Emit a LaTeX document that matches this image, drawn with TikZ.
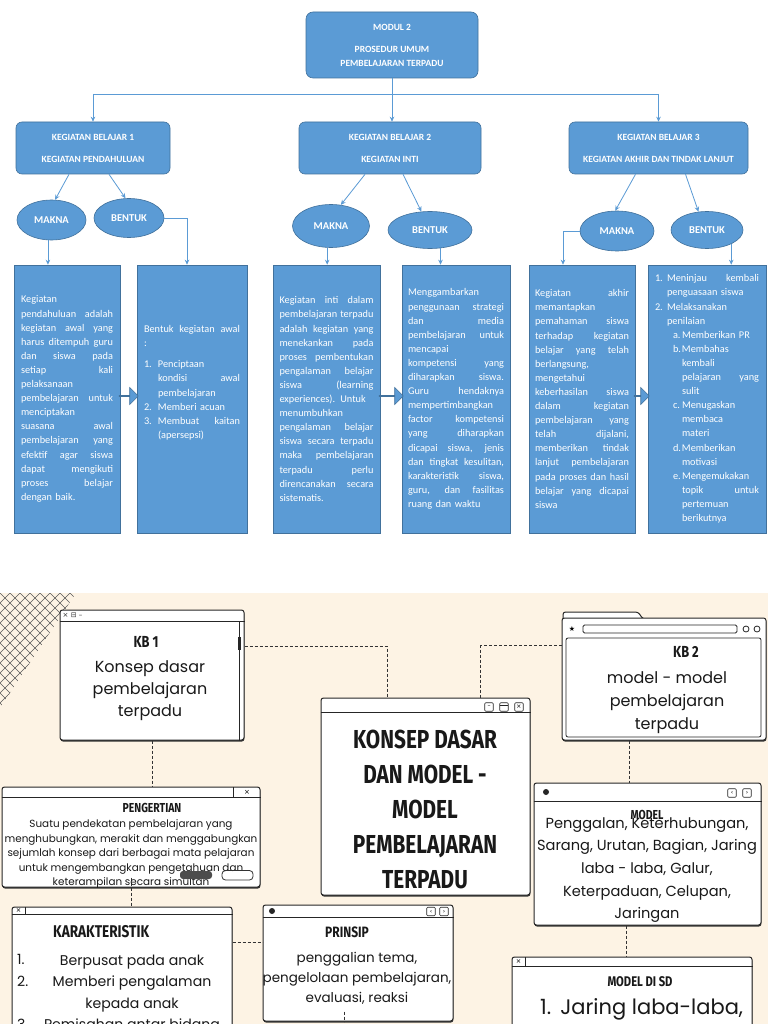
\documentclass[tikz,border=0pt]{standalone}
\usepackage{fontspec}
\setmainfont{Carlito}
\newfontfamily\handfont{Poppins}
\newfontfamily\headfont[FakeStretch=0.8]{Fira Sans}
\newfontfamily\symfont{DejaVu Sans}
\usetikzlibrary{positioning,arrows.meta,shapes.geometric,shapes.arrows,shadows,calc}

\definecolor{kbblue}{HTML}{5B9BD5}
\definecolor{kbedge}{HTML}{41719C}
\definecolor{cream}{HTML}{FDF3E4}

\hbadness=10000
\hfuzz=6pt
% one justified line, one left line, a list label
\newcommand\jl[2][0pt]{\hspace*{#1}\hbox to \dimexpr\hsize-#1\relax{\spaceskip=0.23em plus 6em minus 0.08em\relax#2}\\}
\newcommand\lline[2][0pt]{\hspace*{#1}#2\\}
\newcommand\lab[2]{\makebox[#1][l]{#2}}

\begin{document}
\begin{tikzpicture}[x=1pt,y=-1pt,
    kbbox/.style={rectangle, rounded corners=6pt, fill=kbblue, draw=kbedge, line width=0.6pt,
      text=white, font=\bfseries\fontsize{9.5}{14}\selectfont, align=center, inner sep=0pt},
    ovalnode/.style={ellipse, fill=kbblue, draw=kbedge, line width=0.6pt, text=white,
      font=\bfseries\fontsize{10.5}{11}\selectfont, inner sep=0pt},
    bodybox/.style={rectangle, fill=kbblue, draw=kbedge, line width=0.6pt, text=white,
      minimum height=268pt, inner xsep=0pt, align=left, font=\fontsize{10.3}{14.1}\selectfont},
    conn/.style={draw=kbblue, line width=0.8pt},
    arr/.style={-{Stealth[length=5pt,width=4.5pt]}},
    blockarr/.style={single arrow, fill=kbblue, draw=kbedge, line width=0.6pt, minimum width=17pt,
      single arrow head extend=5pt, inner sep=0pt},
    win/.style={draw=black!85, fill=white, line width=1pt, rounded corners=2.5pt,
      general shadow={fill=black!80, shadow xshift=0.4pt, shadow yshift=-1.5pt}},
    tbar/.style={draw=black!85, line width=0.8pt},
    dotlink/.style={draw=black!80, line width=1pt, dash pattern=on 3pt off 2pt},
    btn/.style={draw=black!85, line width=0.6pt, rounded corners=1pt, minimum size=8.5pt, inner sep=0pt,
      font=\symfont\fontsize{6}{6}\selectfont},
    handtxt/.style={align=center, inner sep=0pt, text=black!90},
    wintitle/.style={inner sep=0pt, text=black!90},
  ]

  \useasboundingbox (0,0) rectangle (768,1024);
  \fill[white] (0,0) rectangle (768,1024);
  \fill[cream] (0,593) rectangle (768,1024);

  % cross hatch, top left
  \begin{scope}
    \clip (0,593) -- (76,593) -- (0,708) -- cycle;
    \foreach \k in {-130,-120,...,80} {
      \draw[black!65, line width=0.6pt] (\k,593) -- ++(140,140);
      \draw[black!65, line width=0.6pt] (\k+130,593) -- ++(-140,140);
    }
  \end{scope}

  %%% upper chart
  \node[kbbox, minimum width=172pt, minimum height=66pt, rounded corners=7pt] (mod) at (392,45)
    {MODUL 2\\[8pt]PROSEDUR UMUM\\PEMBELAJARAN TERPADU};

  \node[kbbox, minimum width=154pt, minimum height=52pt] (k1) at (93,148)
    {KEGIATAN BELAJAR 1\\[8pt]KEGIATAN PENDAHULUAN};
  \node[kbbox, minimum width=182pt, minimum height=52pt] (k2) at (390,148)
    {KEGIATAN BELAJAR 2\\[8pt]KEGIATAN INTI};
  \node[kbbox, minimum width=179pt, minimum height=52pt] (k3) at (658.5,148)
    {KEGIATAN BELAJAR 3\\[8pt]KEGIATAN AKHIR DAN TINDAK LANJUT};

  \node[ovalnode, minimum width=69pt, minimum height=40pt] (m1) at (51.5,220) {MAKNA};
  \node[ovalnode, minimum width=70pt, minimum height=39pt] (n1) at (129,218) {BENTUK};
  \node[ovalnode, minimum width=77pt, minimum height=43pt] (m2) at (331,226) {MAKNA};
  \node[ovalnode, minimum width=84pt, minimum height=37pt] (n2) at (430,230) {BENTUK};
  \node[ovalnode, minimum width=74pt, minimum height=40pt] (m3) at (617,231) {MAKNA};
  \node[ovalnode, minimum width=72pt, minimum height=37pt] (n3) at (707,230) {BENTUK};

  \node[bodybox, text width=92pt, minimum width=106pt] (b1) at (67,399) {%
    \lline{Kegiatan}
    \jl{pendahuluan adalah}
    \jl{kegiatan awal yang}
    \jl{harus ditempuh guru}
    \jl{dan siswa pada}
    \jl{setiap kali}
    \lline{pelaksanaan}
    \jl{pembelajaran untuk}
    \lline{menciptakan}
    \jl{suasana awal}
    \jl{pembelajaran yang}
    \jl{efektif agar siswa}
    \jl{dapat mengikuti}
    \jl{proses belajar}
    dengan baik.};
  \node[bodybox, text width=96pt, minimum width=110pt] (b2) at (192,399) {%
    \jl{Bentuk kegiatan awal}
    :\\[7pt]
    \lline{\lab{14pt}{1.}Penciptaan}
    \jl[14pt]{kondisi awal}
    \lline[14pt]{pembelajaran}
    \lline{\lab{14pt}{2.}Memberi acuan}
    \jl{\lab{14pt}{3.}Membuat kaitan}
    \hspace*{14pt}(apersepsi)\\[20pt]\mbox{}};
  \node[bodybox, text width=94pt, minimum width=107pt] (b3) at (326.5,399) {%
    \jl{Kegiatan inti dalam}
    \jl{pembelajaran terpadu}
    \jl{adalah kegiatan yang}
    \jl{menekankan pada}
    \jl{proses pembentukan}
    \jl{pengalaman belajar}
    \jl{siswa (learning}
    \jl{experiences). Untuk}
    \lline{menumbuhkan}
    \jl{pengalaman belajar}
    \jl{siswa secara terpadu}
    \jl{maka pembelajaran}
    \jl{terpadu perlu}
    \jl{direncanakan secara}
    sistematis.};
  \node[bodybox, text width=96pt, minimum width=108pt] (b4) at (456,399) {%
    \lline{Menggambarkan}
    \jl{penggunaan strategi}
    \jl{dan media}
    \jl{pembelajaran untuk}
    \lline{mencapai}
    \jl{kompetensi yang}
    \jl{diharapkan siswa.}
    \jl{Guru hendaknya}
    \lline{mempertimbangkan}
    \jl{factor kompetensi}
    \jl{yang diharapkan}
    \jl{dicapai siswa, jenis}
    \jl{dan tingkat kesulitan,}
    \jl{karakteristik siswa,}
    \jl{guru, dan fasilitas}
    ruang dan waktu};
  \node[bodybox, text width=94pt, minimum width=106pt] (b5) at (582,399) {%
    \jl{Kegiatan akhir}
    \lline{memantapkan}
    \jl{pemahaman siswa}
    \jl{terhadap kegiatan}
    \jl{belajar yang telah}
    \lline{berlangsung,}
    \lline{mengetahui}
    \jl{keberhasilan siswa}
    \jl{dalam kegiatan}
    \jl{pembelajaran yang}
    \jl{telah dijalani,}
    \jl{memberikan tindak}
    \jl{lanjut pembelajaran}
    \jl{pada proses dan hasil}
    \jl{belajar yang dicapai}
    siswa};
  \node[bodybox, text width=104pt, minimum width=118pt] (b6) at (707,399) {%
    \jl{\lab{12pt}{1.}Meninjau kembali}
    \lline[12pt]{penguasaan siswa}
    \lline{\lab{12pt}{2.}Melaksanakan}
    \lline[12pt]{penilaian}
    \lline[18pt]{\lab{9pt}{a.}Memberikan PR}
    \lline[18pt]{\lab{9pt}{b.}Membahas}
    \lline[27pt]{kembali}
    \jl[27pt]{pelajaran yang}
    \lline[27pt]{sulit}
    \lline[18pt]{\lab{9pt}{c.}Menugaskan}
    \lline[27pt]{membaca}
    \lline[27pt]{materi}
    \lline[18pt]{\lab{9pt}{d.}Memberikan}
    \lline[27pt]{motivasi}
    \lline[18pt]{\lab{9pt}{e.}Mengemukakan}
    \jl[27pt]{topik untuk}
    \lline[27pt]{pertemuan}
    \hspace*{27pt}berikutnya};

  \node[blockarr, minimum height=19pt] (a1) at ($(b1.east)!0.5!(b2.west)+(0,-3)$) {};
  \node[blockarr, minimum height=24pt] (a2) at ($(b3.east)!0.5!(b4.west)+(0,-3)$) {};
  \node[blockarr, minimum height=15pt] (a3) at ($(b5.east)!0.5!(b6.west)+(0,-3)$) {};

  \coordinate (jn) at ($(mod.south)!0.36!(k2.north)$);
  \draw[conn, arr] (mod.south) -- (mod.south |- k2.north);
  \draw[conn] (jn -| k1.north) -- (jn -| k3.north);
  \draw[conn, arr] (jn -| k1.north) -- (k1.north);
  \draw[conn, arr] (jn -| k3.north) -- (k3.north);

  \draw[conn, arr] ([xshift=-24pt]k1.south) -- (m1.80);
  \draw[conn, arr] ([xshift=16pt]k1.south) -- (n1.100);
  \draw[conn, arr] ([xshift=-25pt]k2.south) -- (m2.65);
  \draw[conn, arr] ([xshift=13pt]k2.south) -- (n2.115);
  \draw[conn, arr] ([xshift=-23pt]k3.south) -- (m3.95);
  \draw[conn, arr] ([xshift=27pt]k3.south) -- (n3.115);

  \draw[conn, arr] (m1.-100) -- (m1.-100 |- b1.north);
  \draw[conn, arr] (n1.east) -| ([xshift=-5pt]b2.north);
  \draw[conn, arr] (m2.-100) -- (m2.-100 |- b3.north);
  \draw[conn, arr] (n2.-60) -- (n2.-60 |- b4.north);
  \draw[conn, arr] (m3.west) -| ([xshift=-19pt]b5.north);
  \draw[conn, arr] (n3.-30) -- (n3.-30 |- b6.north);

  %%% lower board
  % KB 1
  \node[win, minimum width=184pt, minimum height=130pt] (kb1) at (152,675) {};
  \draw[tbar] ([yshift=-12pt]kb1.north west) -- ([yshift=-12pt]kb1.north east);
  \draw[tbar] ([xshift=-5pt,yshift=-12pt]kb1.north east) -- ([xshift=-5pt]kb1.south east);
  \fill[black!85] ([xshift=-6.5pt,yshift=-27pt]kb1.north east) rectangle ([xshift=-3.5pt,yshift=-40pt]kb1.north east);
  \node[anchor=west, inner sep=0pt, font=\symfont\fontsize{7}{7}\selectfont, text=black!80] (kb1i)
    at ([xshift=3pt,yshift=-6pt]kb1.north west) {× ⊟ –};
  \node[wintitle, font=\headfont\bfseries\fontsize{16}{16}\selectfont] (kb1h) at (146,642) {KB 1};
  \node[handtxt, font=\handfont\fontsize{16}{22}\selectfont] (kb1t) at (150,691)
    {Konsep dasar\\pembelajaran\\terpadu};

  % KB 2
  \draw[win] (563,626) -- (563,612) -- (638,612) -- (643,619) -- (700,619);
  \node[win, minimum width=204pt, minimum height=122pt] (kb2) at (664,679) {};
  \node[inner sep=0pt, font=\symfont\fontsize{7}{7}\selectfont] (kb2s) at (572,629) {★};
  \draw[tbar, rounded corners=1.5pt] (583,625) rectangle (737,633);
  \draw[tbar] (746,629) circle[radius=3] (757,629) circle[radius=3];
  \draw[tbar, rounded corners=2pt] (566,638) rectangle (761,737);
  \node[wintitle, font=\headfont\bfseries\fontsize{16}{16}\selectfont] (kb2h) at (686,652) {KB 2};
  \node[handtxt, font=\handfont\fontsize{16}{23}\selectfont] (kb2t) at (667,703)
    {model - model\\pembelajaran\\terpadu};

  % centre window
  \node[win, minimum width=209pt, minimum height=197pt] (cw) at (425.5,796.5) {};
  \draw[tbar] ([yshift=-15pt]cw.north west) -- ([yshift=-15pt]cw.north east);
  \node[btn] (cwb1) at (489,707) {–};
  \node[btn, path picture={\draw[line width=0.6pt] ([yshift=-2.5pt]path picture bounding box.north west) -- ([yshift=-2.5pt]path picture bounding box.north east);}] (cwb2) at (504,707) {};
  \node[btn] (cwb3) at (519,707) {×};
  \node[handtxt, font=\headfont\bfseries\fontsize{26}{35}\selectfont] (cwt) at (425,809)
    {KONSEP DASAR\\DAN MODEL -\\MODEL\\PEMBELAJARAN\\TERPADU};

  % pengertian
  \node[win, minimum width=258pt, minimum height=100pt] (pg) at (131,837) {};
  \draw[tbar] ([yshift=-11pt]pg.north west) -- ([yshift=-11pt]pg.north east);
  \draw[tbar] (233,787) -- (233,798);
  \node[inner sep=0pt, font=\symfont\fontsize{7}{7}\selectfont] (pgx) at (247,792.5) {×};
  \node[wintitle, font=\headfont\bfseries\fontsize{13}{13}\selectfont] (pgh) at (152,808) {PENGERTIAN};

  % karakteristik
  \node[win, minimum width=220pt, minimum height=140pt] (kr) at (122,977) {};
  \draw[tbar] ([yshift=-8pt]kr.north west) -- ([yshift=-8pt]kr.north east);
  \draw[tbar] (25,907) -- (25,915);
  \node[inner sep=0pt, font=\symfont\fontsize{6.5}{6.5}\selectfont] (krx) at (18.5,911) {×};
  \node[wintitle, anchor=west, font=\headfont\bfseries\fontsize{17}{17}\selectfont] (krh) at (53,932) {KARAKTERISTIK};
  \node[handtxt, font=\handfont\fontsize{14.1}{21.5}\selectfont] (krl) at (132,994)
    {Berpusat pada anak\\Memberi pengalaman\\kepada anak\\Pemisahan antar bidang};
  \node[handtxt, anchor=west, align=left, font=\handfont\fontsize{14.1}{21.5}\selectfont] (krn) at (17,992)
    {1.\\2.\\[21.5pt]3.};

  % prinsip
  \node[win, minimum width=190pt, minimum height=116pt] (pr) at (358,963) {};
  \draw[tbar] ([yshift=-13pt]pr.north west) -- ([yshift=-13pt]pr.north east);
  \fill[black!85] (272,911) circle[radius=3];
  \node[btn] (prb1) at (431,911.5) {‹};
  \node[btn] (prb2) at (444,911.5) {›};
  \node[wintitle, font=\headfont\bfseries\fontsize{15}{15}\selectfont] (prh) at (347,932) {PRINSIP};
  \node[handtxt, font=\handfont\fontsize{13.5}{20}\selectfont] (prt) at (357,978)
    {penggalian tema,\\pengelolaan pembelajaran,\\evaluasi, reaksi};

  % model
  \node[win, minimum width=227pt, minimum height=142pt] (md) at (647.5,854) {};
  \draw[tbar] ([yshift=-19pt]md.north west) -- ([yshift=-19pt]md.north east);
  \fill[black!85] (546,792) circle[radius=3];
  \node[btn] (mdb1) at (732,793) {‹};
  \node[btn] (mdb2) at (747,793) {›};

  % model di SD
  \node[win, minimum width=240pt, minimum height=100pt] (sd) at (632,1007) {};
  \draw[tbar] ([yshift=-10pt]sd.north west) -- ([yshift=-10pt]sd.north east);
  \draw[tbar] (525,957) -- (525,967);
  \node[inner sep=0pt, font=\symfont\fontsize{6.5}{6.5}\selectfont] (sdx) at (518.5,962) {×};
  \node[wintitle, font=\headfont\bfseries\fontsize{14}{14}\selectfont] (sdh) at (640,982) {MODEL DI SD};
  \node[wintitle, anchor=west, font=\handfont\fontsize{21}{21}\selectfont] (sdt) at (540,1009)
    {1.\hspace{9pt}Jaring laba-laba,};

  % dashed links
  \draw[dotlink] (kb1.17) -| ([xshift=67pt]cw.north west);
  \draw[dotlink] (kb2.162) -| ([xshift=-50pt]cw.north east);
  \draw[dotlink] (kb1.south) -- (kb1.south |- pg.north);
  \coordinate (kb2d) at ([xshift=-35pt]kb2.south);
  \draw[dotlink] (kb2d) -- (kb2d |- md.north);
  \coordinate (mdd) at ([xshift=-21pt]md.south);
  \draw[dotlink] (mdd) -- (mdd |- sd.north);
  \coordinate (pgd) at ([yshift=10pt]pg.south);
  \draw[dotlink] (pgd) -- (pgd |- kr.north);
  \draw[dotlink] ([yshift=35pt]kr.east) -- ([yshift=21pt]pr.west);
  \coordinate (prd) at ([xshift=-14pt,yshift=10pt]pr.south);
  \draw[dotlink] (prd) -- (prd |- pr.south);

  % texts laid over the frames
  \node[handtxt, font=\handfont\fontsize{10.4}{14.6}\selectfont] (pgt) at (131,854)
    {Suatu pendekatan pembelajaran yang\\menghubungkan, merakit dan menggabungkan\\sejumlah konsep dari berbagai mata pelajaran\\untuk mengembangkan pengetahuan dan\\keterampilan secara simultan};
  \fill[black!70, rounded corners=3pt] (180,871) rectangle (212,879);
  \draw[black!80, line width=0.8pt, rounded corners=3.5pt] (222,870.5) rectangle (253,880);
  \node[wintitle, font=\headfont\bfseries\fontsize{13}{13}\selectfont] (mdh) at (647,815) {MODEL};
  \node[handtxt, font=\handfont\fontsize{14.6}{22.7}\selectfont] (mdt) at (647,870)
    {Penggalan, Keterhubungan,\\Sarang, Urutan, Bagian, Jaring\\laba - laba, Galur,\\Keterpaduan, Celupan,\\Jaringan};

\end{tikzpicture}
\end{document}
